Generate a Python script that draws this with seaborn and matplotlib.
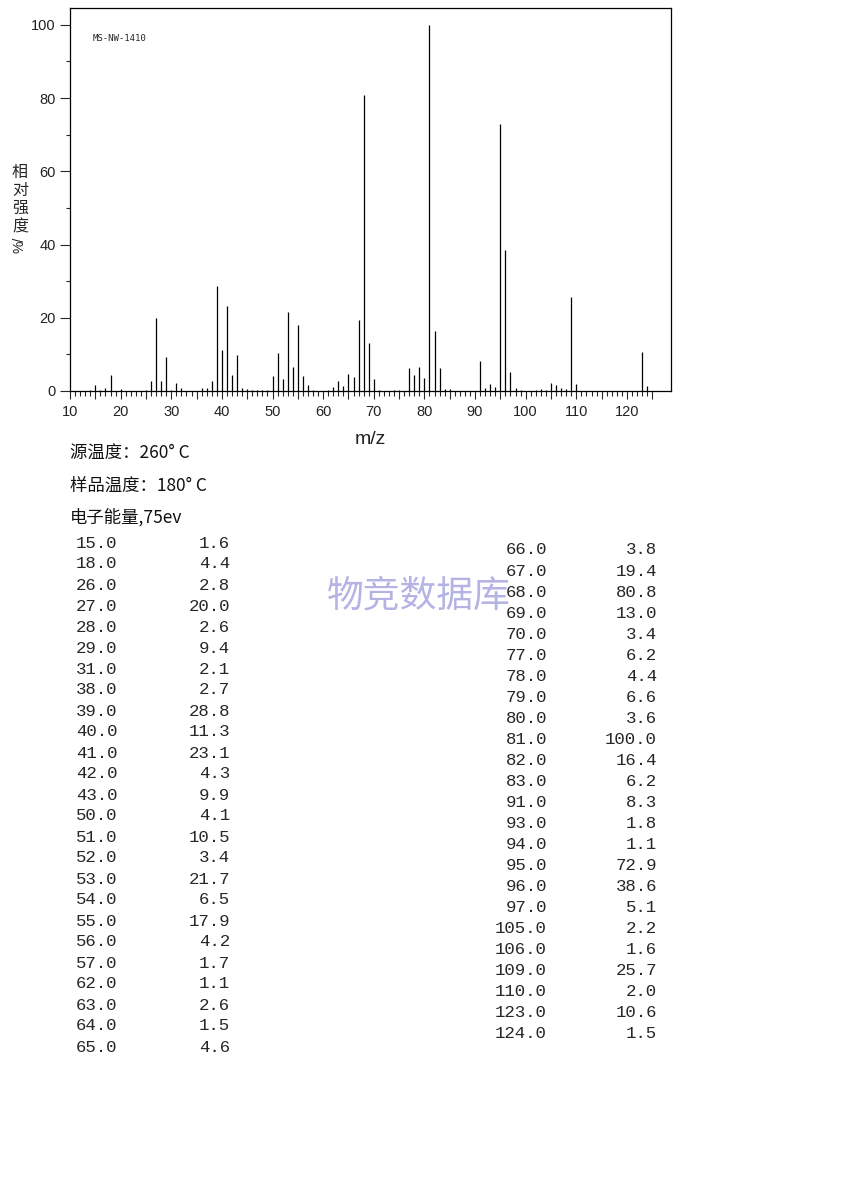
import matplotlib
matplotlib.use("Agg")
import matplotlib.pyplot as plt
import seaborn as sns
import pandas as pd
from matplotlib.ticker import FixedLocator, NullFormatter

# peaks listed in the table (m/z, relative intensity %)
table_mz = [15, 18, 26, 27, 28, 29, 31, 38, 39, 40, 41, 42, 43, 50, 51, 52, 53,
            54, 55, 56, 57, 62, 63, 64, 65,
            66, 67, 68, 69, 70, 77, 78, 79, 80, 81, 82, 83, 91, 93, 94, 95, 96,
            97, 105, 106, 109, 110, 123, 124]
table_int = [1.6, 4.4, 2.8, 20.0, 2.6, 9.4, 2.1, 2.7, 28.8, 11.3, 23.1, 4.3, 9.9,
             4.1, 10.5, 3.4, 21.7, 6.5, 17.9, 4.2, 1.7, 1.1, 2.6, 1.5, 4.6,
             3.8, 19.4, 80.8, 13.0, 3.4, 6.2, 4.4, 6.6, 3.6, 100.0, 16.4, 6.2,
             8.3, 1.8, 1.1, 72.9, 38.6, 5.1, 2.2, 1.6, 25.7, 2.0, 10.6, 1.5]

# small peaks drawn in the spectrum but not listed (estimated)
minor_mz = [14, 16, 17, 20, 25, 30, 32, 36, 37, 44, 45, 46, 47, 48, 49, 58, 61,
            71, 74, 75, 84, 85, 92, 98, 99, 102, 103, 104, 107, 108]
minor_int = [0.3, 0.3, 0.7, 0.5, 0.3, 0.3, 0.8, 0.8, 0.8, 0.8, 0.5, 0.3, 0.3,
             0.4, 0.3, 0.3, 0.4, 0.3, 0.4, 0.4, 0.5, 0.5, 0.9, 0.7, 0.3, 0.4,
             0.6, 0.4, 0.8, 0.5]

header_lines = ["源温度：260° C", "样品温度：180° C", "电子能量,75ev"]
ylabel_chars = ["相", "对", "强", "度"]

W, H = 850, 1191


def fx(px):
    return px / W


def fy(py):
    return 1 - py / H


def main():
    sns.set_style("ticks")
    plt.rcParams["font.family"] = ["Liberation Sans", "DejaVu Sans"]

    spec = pd.DataFrame({"mz": table_mz + minor_mz,
                         "intensity": table_int + minor_int})

    fig = plt.figure(figsize=(8.5, 11.91), dpi=100)
    ax = fig.add_axes([fx(70), fy(391), fx(601), 383 / H])

    ax.vlines(spec["mz"], 0, spec["intensity"], color="black", linewidth=0.9)

    ax.set_xlim(10, 128.7)
    ax.set_ylim(0, 104.6)

    ax.xaxis.set_major_locator(FixedLocator(list(range(10, 126, 5))))
    ax.set_xticklabels([str(v) if v % 10 == 0 else "" for v in range(10, 126, 5)])
    ax.xaxis.set_minor_locator(FixedLocator(list(range(10, 126))))
    ax.yaxis.set_major_locator(FixedLocator([0, 20, 40, 60, 80, 100]))
    ax.yaxis.set_minor_locator(FixedLocator([10, 30, 50, 70, 90]))
    ax.yaxis.set_minor_formatter(NullFormatter())

    ax.tick_params(axis="x", which="major", length=6, width=0.8, pad=4,
                   labelsize=10.5, labelcolor="#222222", direction="out")
    ax.tick_params(axis="x", which="minor", length=3.8, width=0.8, direction="out")
    ax.tick_params(axis="y", which="major", length=7.2, width=0.8, pad=3,
                   labelsize=10.5, labelcolor="#222222", direction="out")
    ax.tick_params(axis="y", which="minor", length=3, width=0.8, direction="out")
    for s in ax.spines.values():
        s.set_visible(True)
        s.set_linewidth(0.9)
        s.set_color("black")

    ax.text(14.5, 96.4, "MS-NW-1410", fontsize=6.5, va="center", ha="left",
            family="DejaVu Sans Mono")

    fig.text(fx(370), fy(440), "m/z", fontsize=14, ha="center", va="center",
             color="#222222")

    cjk = ["Noto Sans CJK SC", "DejaVu Sans"]
    for i, ch in enumerate(ylabel_chars):
        fig.text(fx(20), fy(172 + i * 18.3), ch, fontsize=11.5, ha="center",
                 va="center", family=cjk)
    fig.text(fx(20), fy(245), "%/", fontsize=10, ha="center", va="center",
             rotation=90)

    for i, line in enumerate(header_lines):
        fig.text(fx(70), fy(454 + i * 31.5), line, fontsize=12.5, ha="left",
                 va="center", family=cjk, color="#111111")

    # watermark
    fig.text(fx(419), fy(596), "物竞数据库", fontsize=26.5, ha="center",
             va="center", color="#b4b4e4", family=cjk, zorder=0)

    mono = "Liberation Mono"
    left_n = 25
    for i in range(len(table_mz)):
        mz, val = table_mz[i], table_int[i]
        if i < left_n:
            y = 543 + i * 21
            fig.text(fx(76), fy(y), f"{mz:.1f}", fontsize=12.5, family=mono,
                     ha="left", va="center", zorder=2)
            fig.text(fx(230), fy(y), f"{val:.1f}", fontsize=12.5, family=mono,
                     ha="right", va="center", zorder=2)
        else:
            y = 550 + (i - left_n) * 21.04
            fig.text(fx(547), fy(y), f"{mz:.1f}", fontsize=12.5, family=mono,
                     ha="right", va="center", zorder=2)
            fig.text(fx(657), fy(y), f"{val:.1f}", fontsize=12.5, family=mono,
                     ha="right", va="center", zorder=2)

    fig.savefig("out.png", dpi=100)


if __name__ == "__main__":
    main()
